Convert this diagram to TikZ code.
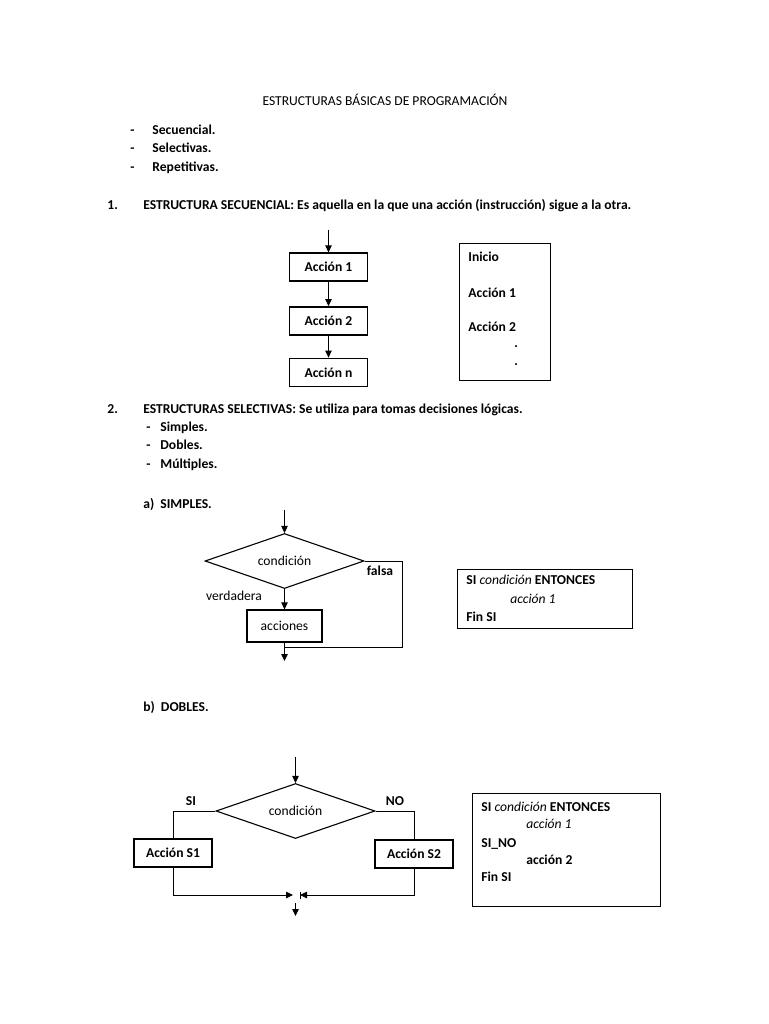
\documentclass[tikz,border=0pt]{standalone}
\usepackage{fontspec}
\setmainfont{Carlito}
\usetikzlibrary{arrows.meta,shapes.geometric}
\newcommand{\tam}{\fontsize{13.6}{16.5}\selectfont}

\begin{document}
\begin{tikzpicture}[x=1pt,y=-1pt,line width=0.8pt,
   txt/.style={anchor=west,inner sep=0pt,text height=8.7pt,text depth=0pt,font=\tam\bfseries},
   txtn/.style={anchor=west,inner sep=0pt,text height=8.7pt,text depth=0pt,font=\tam},
   accion/.style={draw,line width=1.2pt,inner sep=0pt,minimum width=78pt,minimum height=28pt,font=\tam\bfseries},
   decision/.style={diamond,draw,line width=1.1pt,inner sep=0pt,aspect=2.9,minimum width=159pt,minimum height=55pt,font=\tam},
   marco/.style={draw,line width=1pt,inner sep=0pt},
   flecha/.style={-{Triangle[length=7pt,width=6.5pt]}}]
   \useasboundingbox (0,0) rectangle (768,1024);
   % encabezado
   \node[inner sep=0pt,text height=8.7pt,text depth=0pt,font=\tam] (titulo) at (385,101) {ESTRUCTURAS BÁSICAS DE PROGRAMACIÓN};
   \node[txt] (g1) at (130,130) {-};
   \node[txt] (l1) at (152,130) {Secuencial.};
   \node[txt] (g2) at (130,148) {-};
   \node[txt] (l2) at (152,148) {Selectivas.};
   \node[txt] (g3) at (130,167) {-};
   \node[txt] (l3) at (152,167) {Repetitivas.};
   % 1. secuencial
   \node[txt] (n1) at (107,205) {1.};
   \node[txt] (sec) at (143,205) {ESTRUCTURA SECUENCIAL: Es aquella en la que una acción (instrucción) sigue a la otra.};
   \coordinate (secIni) at (328.5,230);
   \node[accion] (a1) at (328.5,267) {Acción 1};
   \node[accion,line width=1.8pt] (a2) at (328.5,321) {Acción 2};
   \node[accion,line width=1.8pt] (an) at (328.5,372.5) {Acción n};
   \draw[flecha] (secIni) -- (a1);
   \draw[flecha] (a1) -- (a2);
   \draw[flecha] (a2) -- (an);
   \node[marco,minimum width=91pt,minimum height=137pt] (ps1) at (504.5,311.5) {};
   \node[txt] (ps1a) at (468,257) {Inicio};
   \node[txt] (ps1b) at (468,293) {Acción 1};
   \node[txt] (ps1c) at (468,327) {Acción 2};
   \node[txt] (ps1d) at (514,343) {.};
   \node[txt] (ps1e) at (514,361) {.};
   % 2. selectivas
   \node[txt] (n2) at (107,409) {2.};
   \node[txt] (sel) at (143,409) {ESTRUCTURAS SELECTIVAS: Se utiliza para tomas decisiones lógicas.};
   \node[txt] (h1) at (146,427) {-};
   \node[txt] (m1) at (160,427) {Simples.};
   \node[txt] (h2) at (146,445) {-};
   \node[txt] (m2) at (160,445) {Dobles.};
   \node[txt] (h3) at (146,464) {-};
   \node[txt] (m3) at (160,464) {Múltiples.};
   % a) simples
   \node[txt] (simp) at (143,504) {a)\hspace{6pt}SIMPLES.};
   \coordinate (sEnt) at (284.5,510);
   \node[decision] (cS) at (284.5,561) {condición};
   \node[draw,line width=1.2pt,inner sep=0pt,minimum width=75pt,minimum height=32pt,font=\tam] (accs) at (284.5,626) {acciones};
   \coordinate (sUne) at (284.5,647);
   \coordinate (sSal) at (284.5,661);
   \draw[flecha] (sEnt) -- (cS);
   \draw[flecha] (cS) -- (accs);
   \draw (accs) -- (sUne);
   \draw[flecha] (sUne) -- (sSal);
   \draw (cS.east) -- ++(38,0) |- (sUne);
   \node[txt,anchor=center] (falsa) at (380,571) {falsa};
   \node[txtn,anchor=center] (verd) at (234,596) {verdadera};
   \node[marco,minimum width=175pt,minimum height=59pt] (ps2) at (544.5,598.5) {};
   \node[txtn] (ps2a) at (466,580) {\textbf{SI} \textit{condición} \textbf{ENTONCES}};
   \node[txtn] (ps2b) at (510,599) {\textit{acción 1}};
   \node[txt] (ps2c) at (466,617) {Fin SI};
   % b) dobles
   \node[txt] (dob) at (143,707) {b)\hspace{6pt}DOBLES.};
   \coordinate (dEnt) at (295.5,757);
   \node[decision] (cD) at (295.5,811) {condición};
   \node[accion] (s1) at (173,853) {Acción S1};
   \node[accion] (s2) at (414,854) {Acción S2};
   \draw[flecha] (dEnt) -- (cD);
   \draw (cD.west) -| (s1);
   \draw (cD.east) -| (s2);
   \coordinate (jIzq) at (293,895);
   \coordinate (jDer) at (300,895);
   \draw[flecha] (s1) |- (jIzq);
   \draw[flecha] (s2) |- (jDer);
   \draw (jDer) ++(0,-3.5) -- ++(0,7);
   \coordinate (dBaj) at (295.5,903);
   \coordinate (dSal) at (295.5,916);
   \draw[flecha] (dBaj) -- (dSal);
   \node[txt,anchor=center] (si) at (191,801) {SI};
   \node[txt,anchor=center] (no) at (395,801) {NO};
   \node[marco,minimum width=188pt,minimum height=113pt] (ps3) at (566,849.5) {};
   \node[txtn] (ps3a) at (481,807) {\textbf{SI} \textit{condición} \textbf{ENTONCES}};
   \node[txtn] (ps3b) at (526,824) {\textit{acción 1}};
   \node[txt] (ps3c) at (481,843) {SI\_NO};
   \node[txt] (ps3d) at (526,860) {acción 2};
   \node[txt] (ps3e) at (481,877) {Fin SI};
\end{tikzpicture}
\end{document}
